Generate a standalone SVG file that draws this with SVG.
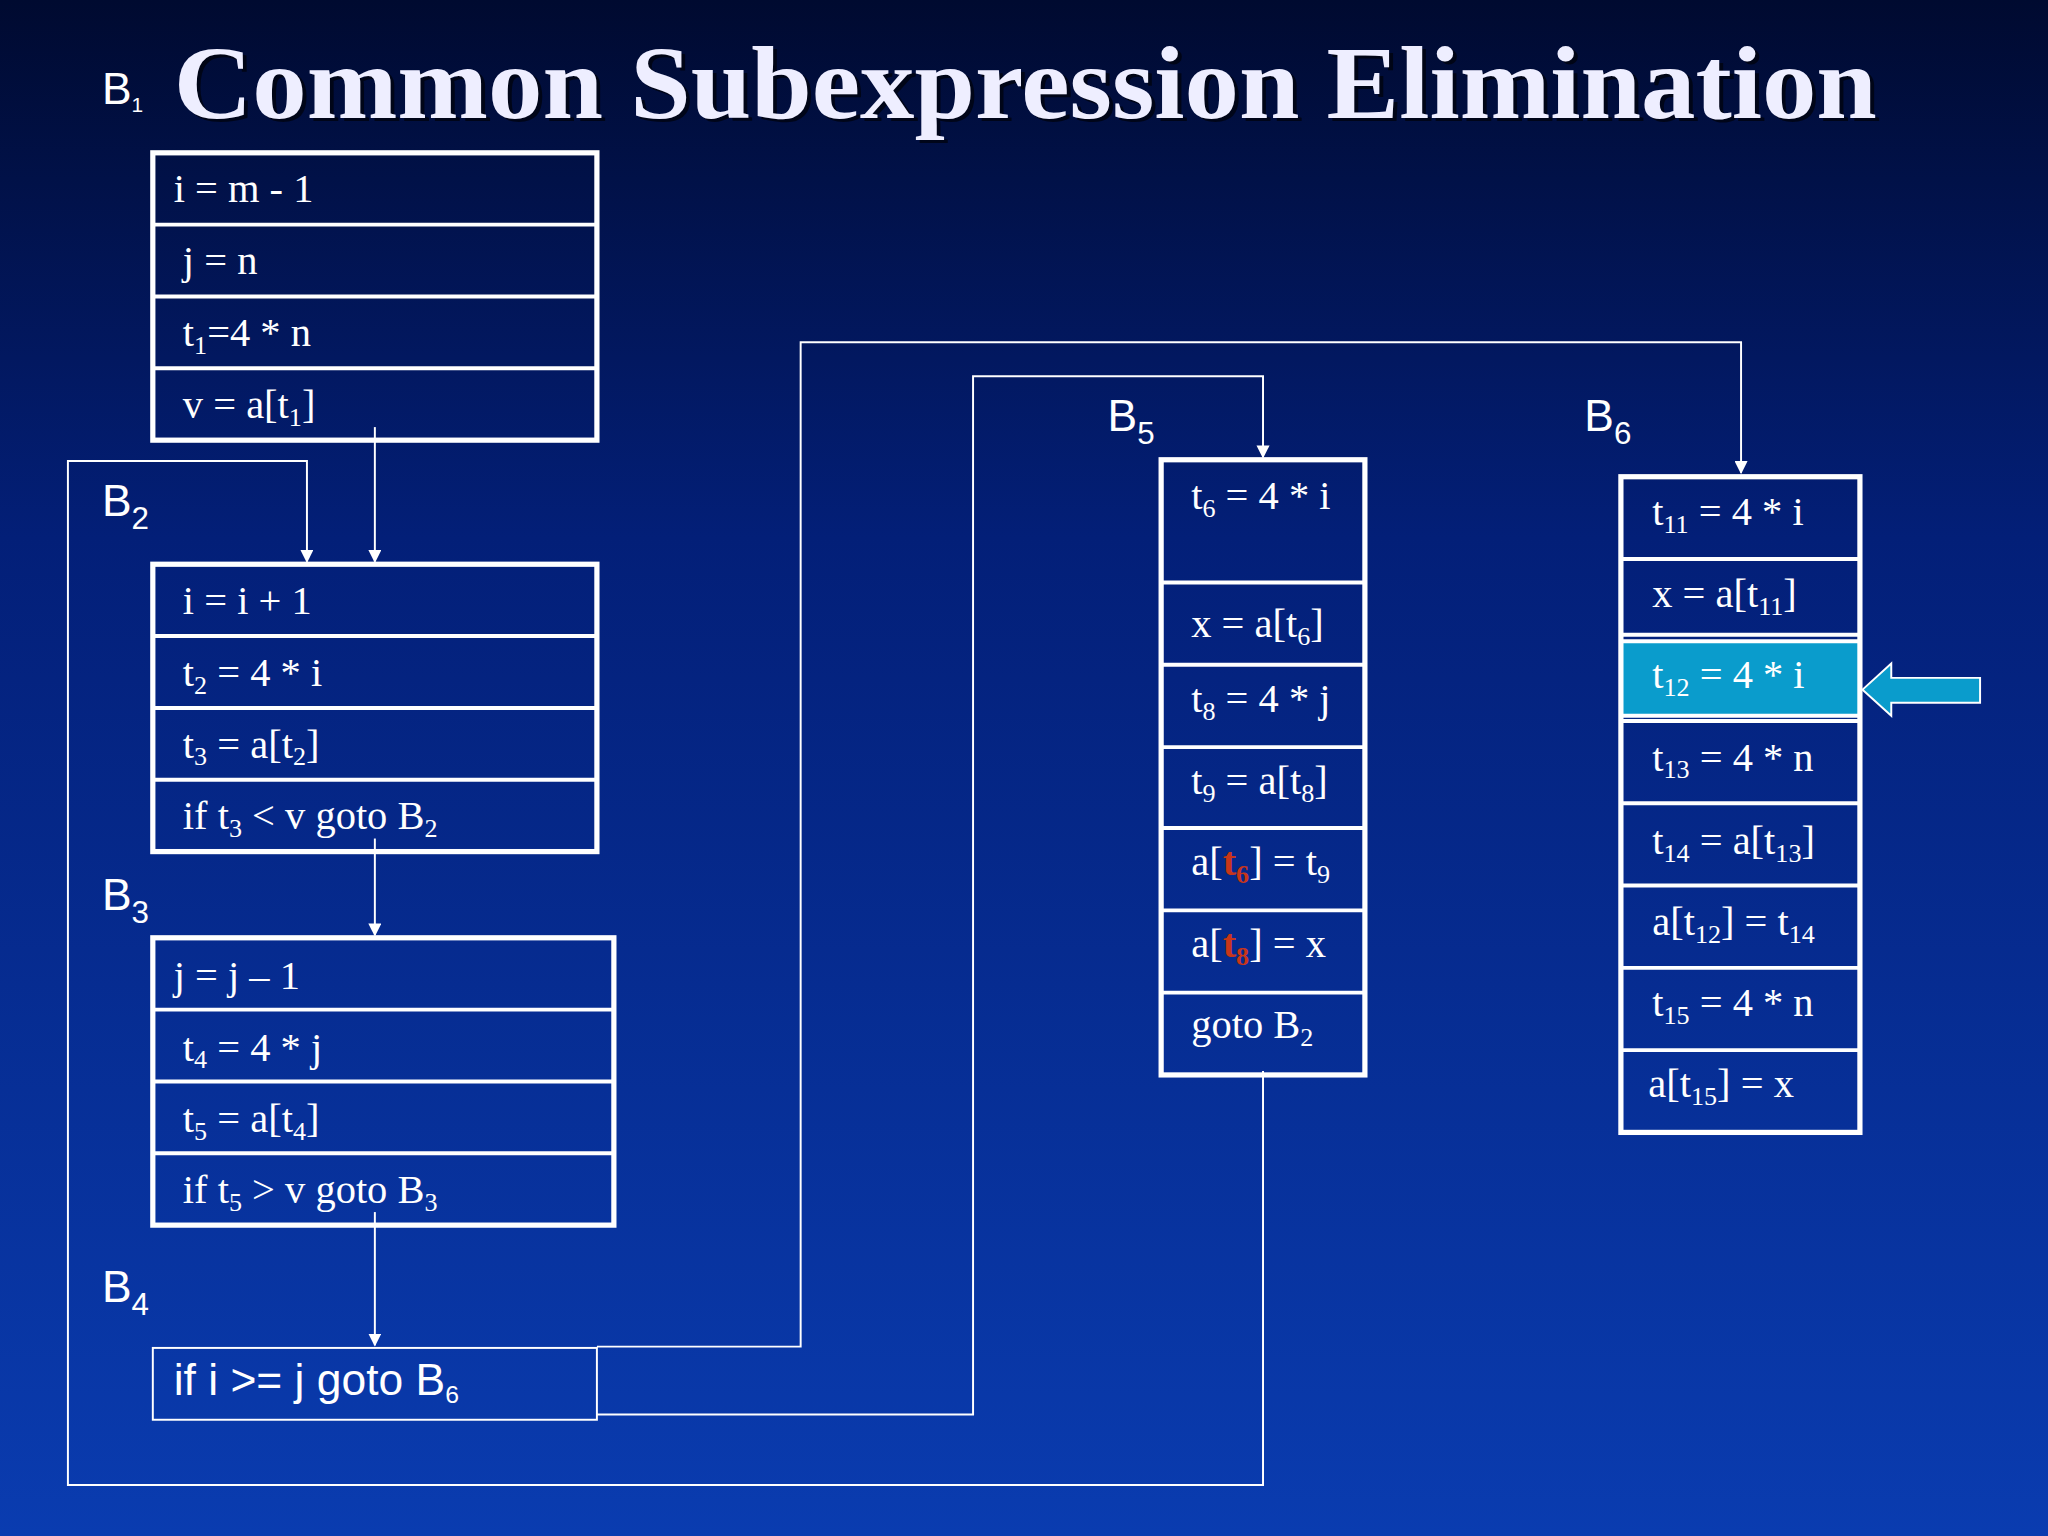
<svg xmlns="http://www.w3.org/2000/svg" width="2048" height="1536" viewBox="0 0 2048 1536" xml:space="preserve">
<defs>
<linearGradient id="bg" x1="0" y1="0" x2="0" y2="1">
<stop offset="0" stop-color="#000a30"/><stop offset="0.35" stop-color="#031f78"/><stop offset="1" stop-color="#0a3cb0"/>
</linearGradient>
<marker id="ah" markerWidth="10" markerHeight="10" refX="9" refY="5" orient="auto" markerUnits="userSpaceOnUse" viewBox="0 0 10 10">
<path d="M0,0 L10,5 L0,10 z" fill="#fff"/>
</marker>
<style>
.t{font-family:"Liberation Serif",serif;font-size:31px;fill:#fff}
.lab{font-family:"Liberation Sans",sans-serif;font-size:34px;fill:#fff}
.box{fill:none;stroke:#fff;stroke-width:4}
.row{stroke:#fff;stroke-width:3}
.c{fill:none;stroke:#fff;stroke-width:1.5}
.r{fill:#c8361a;font-weight:bold}
</style>
</defs>
<rect width="2048" height="1536" fill="url(#bg)"/>
<g transform="scale(1.306122)">
<text x="136" y="93" font-family="Liberation Serif,serif" font-weight="bold" font-size="80" fill="#000" opacity="0.6" textLength="1304" lengthAdjust="spacingAndGlyphs">Common Subexpression Elimination</text>
<text x="133" y="90" font-family="Liberation Serif,serif" font-weight="bold" font-size="80" fill="#eeeeff" textLength="1304" lengthAdjust="spacingAndGlyphs">Common Subexpression Elimination</text>
<text x="78" y="80" class="lab" font-size="30">B<tspan font-size="16" dy="6">1</tspan></text>

<g id="connectors">
<path class="c" d="M287,327 V430" marker-end="url(#ah)"/>
<path class="c" d="M967,820 V1137 H52 V353 H235 V430" marker-end="url(#ah)"/>
<path class="c" d="M287,642 V716" marker-end="url(#ah)"/>
<path class="c" d="M287,928 V1030" marker-end="url(#ah)"/>
<path class="c" d="M457,1031 H613 V262 H1333 V362" marker-end="url(#ah)"/>
<path class="c" d="M457,1083 H745 V288 H967 V350" marker-end="url(#ah)"/>
</g>

<g id="B1">
<rect class="box" x="117" y="117" width="340" height="220"/>
<line class="row" x1="117" y1="172" x2="457" y2="172"/><line class="row" x1="117" y1="227" x2="457" y2="227"/><line class="row" x1="117" y1="282" x2="457" y2="282"/>
<text class="t" x="133" y="155">i = m - 1</text>
<text class="t" x="140" y="210">j = n</text>
<text class="t" x="140" y="265">t<tspan font-size="20" dy="6">1</tspan><tspan dy="-6">=4 *  n</tspan></text>
<text class="t" x="140" y="320">v = a[t<tspan font-size="20" dy="6">1</tspan><tspan dy="-6">]</tspan></text>
</g>

<g id="B2">
<text class="lab" x="78" y="395">B<tspan font-size="24" dy="10">2</tspan></text>
<rect class="box" x="117" y="432" width="340" height="220"/>
<line class="row" x1="117" y1="487" x2="457" y2="487"/><line class="row" x1="117" y1="542" x2="457" y2="542"/><line class="row" x1="117" y1="597" x2="457" y2="597"/>
<text class="t" x="140" y="470">i = i  + 1</text>
<text class="t" x="140" y="525">t<tspan font-size="20" dy="6">2</tspan><tspan dy="-6"> = 4 * i</tspan></text>
<text class="t" x="140" y="580">t<tspan font-size="20" dy="6">3</tspan><tspan dy="-6"> = a[t</tspan><tspan font-size="20" dy="6">2</tspan><tspan dy="-6">]</tspan></text>
<text class="t" x="140" y="635">if t<tspan font-size="20" dy="6">3</tspan><tspan dy="-6"> &lt; v goto B</tspan><tspan font-size="20" dy="6">2</tspan></text>
</g>

<g id="B3">
<text class="lab" x="78" y="697">B<tspan font-size="24" dy="10">3</tspan></text>
<rect class="box" x="117" y="718" width="353" height="220"/>
<line class="row" x1="117" y1="773" x2="470" y2="773"/><line class="row" x1="117" y1="828" x2="470" y2="828"/><line class="row" x1="117" y1="883" x2="470" y2="883"/>
<text class="t" x="133" y="757">j = j – 1</text>
<text class="t" x="140" y="812">t<tspan font-size="20" dy="6">4</tspan><tspan dy="-6"> = 4 *  j</tspan></text>
<text class="t" x="140" y="867">t<tspan font-size="20" dy="6">5</tspan><tspan dy="-6"> = a[t</tspan><tspan font-size="20" dy="6">4</tspan><tspan dy="-6">]</tspan></text>
<text class="t" x="140" y="921">if t<tspan font-size="20" dy="6">5</tspan><tspan dy="-6"> &gt; v goto B</tspan><tspan font-size="20" dy="6">3</tspan></text>
</g>

<g id="B4">
<text class="lab" x="78" y="997">B<tspan font-size="24" dy="10">4</tspan></text>
<rect x="117" y="1032" width="340" height="55" fill="none" stroke="#fff" stroke-width="1.5"/>
<text class="lab" x="133" y="1068" font-size="28">if i &gt;= j goto B<tspan font-size="19" dy="6">6</tspan></text>
</g>

<g id="B5">
<text class="lab" x="848" y="330">B<tspan font-size="24" dy="10">5</tspan></text>
<rect class="box" x="889" y="352" width="156" height="471"/>
<line class="row" x1="889" y1="446" x2="1045" y2="446"/><line class="row" x1="889" y1="509" x2="1045" y2="509"/><line class="row" x1="889" y1="572" x2="1045" y2="572"/><line class="row" x1="889" y1="634" x2="1045" y2="634"/><line class="row" x1="889" y1="697" x2="1045" y2="697"/><line class="row" x1="889" y1="760" x2="1045" y2="760"/>
<text class="t" x="912" y="390">t<tspan font-size="20" dy="6">6</tspan><tspan dy="-6">  = 4 * i</tspan></text>
<text class="t" x="912" y="488">x = a[t<tspan font-size="20" dy="6">6</tspan><tspan dy="-6">]</tspan></text>
<text class="t" x="912" y="545">t<tspan font-size="20" dy="6">8</tspan><tspan dy="-6"> = 4 * j</tspan></text>
<text class="t" x="912" y="608">t<tspan font-size="20" dy="6">9</tspan><tspan dy="-6"> = a[t</tspan><tspan font-size="20" dy="6">8</tspan><tspan dy="-6">]</tspan></text>
<text class="t" x="912" y="670">a[<tspan class="r">t</tspan><tspan class="r" font-size="20" dy="6">6</tspan><tspan dy="-6">] = t</tspan><tspan font-size="20" dy="6">9</tspan></text>
<text class="t" x="912" y="733">a[<tspan class="r">t</tspan><tspan class="r" font-size="20" dy="6">8</tspan><tspan dy="-6">] = x</tspan></text>
<text class="t" x="912" y="795">goto B<tspan font-size="20" dy="6">2</tspan></text>
</g>

<g id="B6">
<text class="lab" x="1213" y="330">B<tspan font-size="24" dy="10">6</tspan></text>
<rect x="1241" y="490" width="183" height="58" fill="#0a9ccc"/>
<rect class="box" x="1241" y="365" width="183" height="502"/>
<line class="row" x1="1241" y1="428" x2="1424" y2="428"/><line class="row" x1="1241" y1="486" x2="1424" y2="486"/><line class="row" x1="1241" y1="491" x2="1424" y2="491"/><line class="row" x1="1241" y1="548" x2="1424" y2="548"/><line class="row" x1="1241" y1="552" x2="1424" y2="552"/><line class="row" x1="1241" y1="615" x2="1424" y2="615"/><line class="row" x1="1241" y1="678" x2="1424" y2="678"/><line class="row" x1="1241" y1="741" x2="1424" y2="741"/><line class="row" x1="1241" y1="804" x2="1424" y2="804"/>
<text class="t" x="1265" y="402">t<tspan font-size="20" dy="6">11</tspan><tspan dy="-6"> = 4 * i</tspan></text>
<text class="t" x="1265" y="465">x = a[t<tspan font-size="20" dy="6">11</tspan><tspan dy="-6">]</tspan></text>
<text class="t" x="1265" y="527">t<tspan font-size="20" dy="6">12</tspan><tspan dy="-6">  = 4 * i</tspan></text>
<text class="t" x="1265" y="590">t<tspan font-size="20" dy="6">13</tspan><tspan dy="-6"> = 4 * n</tspan></text>
<text class="t" x="1265" y="654">t<tspan font-size="20" dy="6">14</tspan><tspan dy="-6"> = a[t</tspan><tspan font-size="20" dy="6">13</tspan><tspan dy="-6">]</tspan></text>
<text class="t" x="1265" y="716">a[t<tspan font-size="20" dy="6">12</tspan><tspan dy="-6">] = t</tspan><tspan font-size="20" dy="6">14</tspan></text>
<text class="t" x="1265" y="778">t<tspan font-size="20" dy="6">15</tspan><tspan dy="-6"> = 4 * n</tspan></text>
<text class="t" x="1262" y="840">a[t<tspan font-size="20" dy="6">15</tspan><tspan dy="-6">] = x</tspan></text>
</g>

<g id="pointer">
<path d="M1426,528 L1448,508 V519 H1516 V538 H1448 V548 z" fill="#0a9ccc" stroke="#fff" stroke-width="1.5"/>
</g>
</g>
</svg>
